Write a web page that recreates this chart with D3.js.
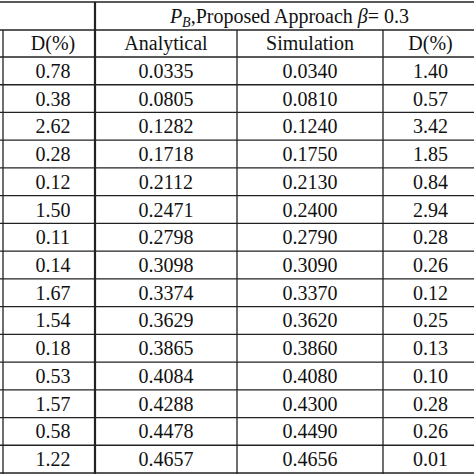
<!DOCTYPE html>
<html><head><meta charset="utf-8">
<script src="https://cdn.jsdelivr.net/npm/d3@7"></script>
<style>body{margin:0;background:#fff}</style>
</head><body>
<svg id="t" width="474" height="474"></svg>
<script>
const colLeftD = ["0.78","0.38","2.62","0.28","0.12","1.50","0.11","0.14","1.67","1.54","0.18","0.53","1.57","0.58","1.22"]
const analytical = ["0.0335","0.0805","0.1282","0.1718","0.2112","0.2471","0.2798","0.3098","0.3374","0.3629","0.3865","0.4084","0.4288","0.4478","0.4657"]
const simulation = ["0.0340","0.0810","0.1240","0.1750","0.2130","0.2400","0.2790","0.3090","0.3370","0.3620","0.3860","0.4080","0.4300","0.4490","0.4656"]
const rightD = ["1.40","0.57","3.42","1.85","0.84","2.94","0.28","0.26","0.12","0.25","0.13","0.10","0.28","0.26","0.01"]
const headers = ["D(%)","Analytical","Simulation","D(%)"]

const svg = d3.select("#t")
const font = "Liberation Serif, DejaVu Serif, serif"
const colEdges = [3, 95, 237, 383, 480]
const x = i => colEdges[i]
const y = d3.scaleLinear().domain([0, 15]).range([57, 473])
const rows = d3.range(15)
const cols = [colLeftD, analytical, simulation, rightD]

// horizontal lines
const hLines = [2, 30].concat(rows.map(r => y(r)), [y(15)])
svg.selectAll("line.h").data(hLines).enter().append("line")
  .attr("x1", 0).attr("x2", 474)
  .attr("y1", d => d).attr("y2", d => d)
  .attr("stroke", "#222").attr("stroke-width", 1.3)

// vertical lines
svg.selectAll("line.v").data(colEdges.slice(0, 4)).enter().append("line")
  .attr("x1", d => d).attr("x2", d => d)
  .attr("y1", (d, i) => (i === 1 ? 2 : 30)).attr("y2", 474)
  .attr("stroke", "#222").attr("stroke-width", (d, i) => i === 1 ? 2.2 : 1.3)

// top header
const title = svg.append("text").attr("x", (95 + 474) / 2 + 5).attr("y", 23)
  .attr("text-anchor", "middle").attr("font-family", font).attr("font-size", 20).attr("fill", "#111")
title.append("tspan").attr("font-style", "italic").text("P")
title.append("tspan").attr("font-style", "italic").attr("font-size", 14).attr("dy", 4).text("B")
title.append("tspan").attr("dy", -4).text(",Proposed Approach ")
title.append("tspan").attr("font-style", "italic").text("β")
title.append("tspan").text("= 0.3")

const cx = i => (x(i) + Math.min(x(i + 1), 474)) / 2 + (i === 0 ? 4 : i === 3 ? 2 : 0)

svg.selectAll("text.hd").data(headers).enter().append("text")
  .attr("x", (d, i) => cx(i))
  .attr("y", 50).attr("text-anchor", "middle")
  .attr("font-family", font).attr("font-size", 20).attr("fill", "#111").text(d => d)

cols.forEach((col, ci) => {
  svg.selectAll("text.c" + ci).data(col).enter().append("text")
    .attr("x", cx(ci))
    .attr("y", (d, r) => y(r + 0.5) + 7).attr("text-anchor", "middle")
    .attr("font-family", font).attr("font-size", 20).attr("fill", "#111").text(d => d)
})
</script>
</body></html>
